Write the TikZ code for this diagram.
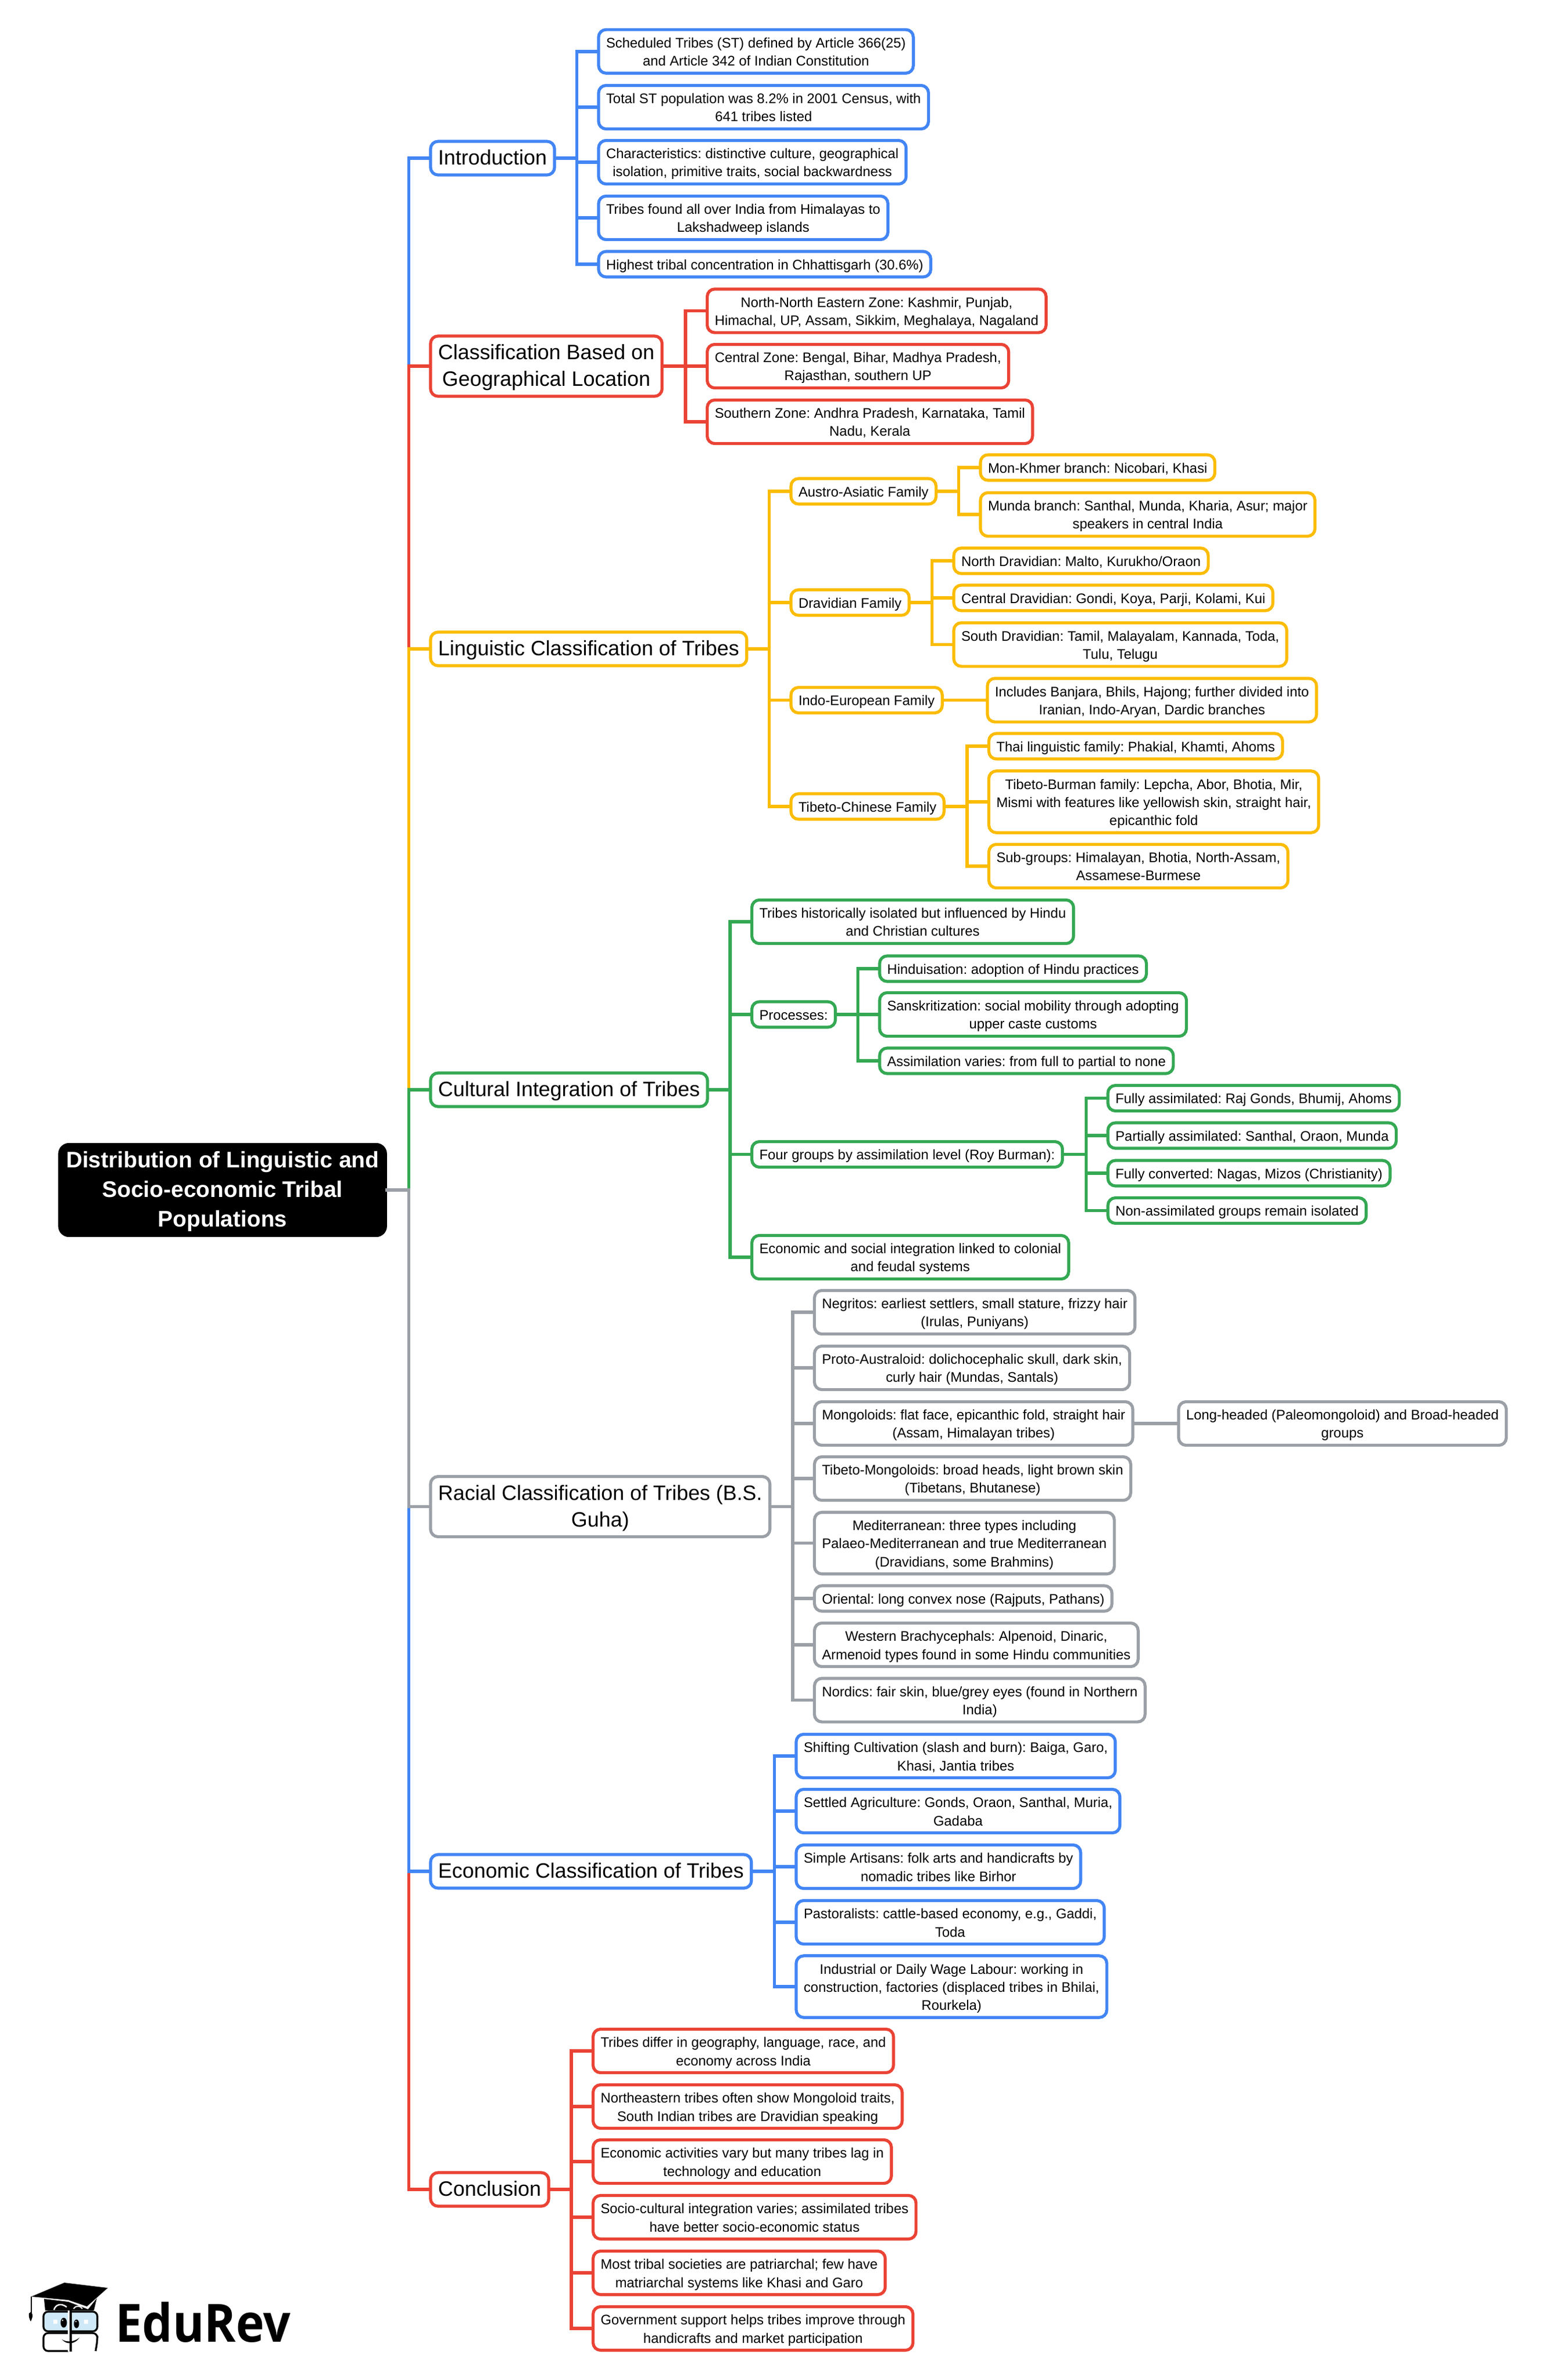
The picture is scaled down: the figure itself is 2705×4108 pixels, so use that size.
\documentclass[tikz,border=0pt]{standalone}
\usepackage{fontspec}
\usepackage{graphicx}
\setmainfont{Liberation Sans}
\newfontfamily\logofont{Open Sans}
\definecolor{cblue}{HTML}{4285F4}
\definecolor{cred}{HTML}{EA4335}
\definecolor{cyel}{HTML}{FBBC04}
\definecolor{cgrn}{HTML}{34A853}
\definecolor{cgry}{HTML}{9AA0A6}
\definecolor{glass}{HTML}{CFE9F8}
\newcommand{\zs}{\rule[-0.2\baselineskip]{0pt}{\baselineskip}}
\newcommand{\zb}{\rule[-0.25\baselineskip]{0pt}{\baselineskip}}
\tikzset{
  mnbase/.style={rectangle,rounded corners=6.5pt,line width=2.6pt,fill=white,align=center,anchor=west,outer sep=0pt,text=black},
  mnsmall/.style={mnbase,font=\fontsize{11.95}{15.6}\selectfont\frenchspacing,inner ysep=3.2pt,inner xsep=6.5pt},
  mnbig/.style={mnbase,font=\fontsize{17.95}{23}\selectfont\frenchspacing,inner ysep=3pt,inner xsep=6.6pt},
  mnroot/.style={mnbase,fill=black,draw=black,text=white,rounded corners=8pt,font=\fontsize{19.45}{25.5}\selectfont\bfseries\frenchspacing,inner ysep=1pt,inner xsep=5.5pt},
  conn/.style={line width=2.9pt},
}
\newcommand{\cn}[3]{\draw[conn,#1] (#3.west) -- ++(-37.5,0) |- (#2.east);}
\begin{document}
\begin{tikzpicture}[x=0.5pt,y=-0.5pt]
\useasboundingbox (0,0) rectangle (2705,4108);
% root
\node[mnroot] (root) at (103,2054) {\zb Distribution of Linguistic and\\Socio-economic Tribal\\Populations\zb};
% level 1
\node[mnbig,draw=cblue] (intro) at (743,273) {\zb Introduction\zb};
\node[mnbig,draw=cred] (geo) at (743,632) {\zb Classification Based on\\Geographical Location\zb};
\node[mnbig,draw=cyel] (ling) at (743,1120) {\zb Linguistic Classification of Tribes\zb};
\node[mnbig,draw=cgrn] (cult) at (743,1881) {\zb Cultural Integration of Tribes\zb};
\node[mnbig,draw=cgry] (race) at (743,2600.5) {\zb Racial Classification of Tribes (B.S.\\Guha)\zb};
\node[mnbig,draw=cblue] (econ) at (743,3230) {\zb Economic Classification of Tribes\zb};
\node[mnbig,draw=cred] (conc) at (743,3779) {\zb Conclusion\zb};
% intro children
\begin{scope}[every node/.style={mnsmall,draw=cblue}]
\node (i1) at (1033,88.7) {\zs Scheduled Tribes (ST) defined by Article 366(25)\\and Article 342 of Indian Constitution\zs};
\node (i2) at (1033,185) {\zs Total ST population was 8.2\% in 2001 Census, with\\641 tribes listed\zs};
\node (i3) at (1033,280) {\zs Characteristics: distinctive culture, geographical\\isolation, primitive traits, social backwardness\zs};
\node (i4) at (1033,376) {\zs Tribes found all over India from Himalayas to\\Lakshadweep islands\zs};
\node (i5) at (1033,456) {\zs Highest tribal concentration in Chhattisgarh (30.6\%)\zs};
\end{scope}
% geo children
\begin{scope}[every node/.style={mnsmall,draw=cred}]
\node (g1) at (1220.5,536.5) {\zs North-North Eastern Zone: Kashmir, Punjab,\\Himachal, UP, Assam, Sikkim, Meghalaya, Nagaland\zs};
\node (g2) at (1220.5,632) {\zs Central Zone: Bengal, Bihar, Madhya Pradesh,\\Rajasthan, southern UP\zs};
\node (g3) at (1220.5,728) {\zs Southern Zone: Andhra Pradesh, Karnataka, Tamil\\Nadu, Kerala\zs};
\end{scope}
% linguistic
\begin{scope}[every node/.style={mnsmall,draw=cyel}]
\node (l1) at (1365,848) {\zs Austro-Asiatic Family\zs};
\node (l2) at (1365,1040) {\zs Dravidian Family\zs};
\node (l3) at (1365,1208.5) {\zs Indo-European Family\zs};
\node (l4) at (1365,1392) {\zs Tibeto-Chinese Family\zs};
\node (l11) at (1692,807) {\zs Mon-Khmer branch: Nicobari, Khasi\zs};
\node (l12) at (1692,888) {\zs Munda branch: Santhal, Munda, Kharia, Asur; major\\speakers in central India\zs};
\node (l21) at (1646,968) {\zs North Dravidian: Malto, Kurukho/Oraon\zs};
\node (l22) at (1646,1032) {\zs Central Dravidian: Gondi, Koya, Parji, Kolami, Kui\zs};
\node (l23) at (1646,1112.5) {\zs South Dravidian: Tamil, Malayalam, Kannada, Toda,\\Tulu, Telugu\zs};
\node (l31) at (1704,1208.5) {\zs Includes Banjara, Bhils, Hajong; further divided into\\Iranian, Indo-Aryan, Dardic branches\zs};
\node (l41) at (1706.5,1288) {\zs Thai linguistic family: Phakial, Khamti, Ahoms\zs};
\node (l42) at (1706.5,1384) {\zs Tibeto-Burman family: Lepcha, Abor, Bhotia, Mir,\\Mismi with features like yellowish skin, straight hair,\\epicanthic fold\zs};
\node (l43) at (1706.5,1495) {\zs Sub-groups: Himalayan, Bhotia, North-Assam,\\Assamese-Burmese\zs};
\end{scope}
% cultural
\begin{scope}[every node/.style={mnsmall,draw=cgrn}]
\node (c1) at (1297.5,1591) {\zs Tribes historically isolated but influenced by Hindu\\and Christian cultures\zs};
\node (c2) at (1297.5,1751) {\zs Processes:\zs};
\node (c3) at (1297.5,1992.5) {\zs Four groups by assimilation level (Roy Burman):\zs};
\node (c4) at (1297.5,2170) {\zs Economic and social integration linked to colonial\\and feudal systems\zs};
\node (c21) at (1518,1672) {\zs Hinduisation: adoption of Hindu practices\zs};
\node (c22) at (1518,1751) {\zs Sanskritization: social mobility through adopting\\upper caste customs\zs};
\node (c23) at (1518,1831) {\zs Assimilation varies: from full to partial to none\zs};
\node (c31) at (1912,1895.5) {\zs Fully assimilated: Raj Gonds, Bhumij, Ahoms\zs};
\node (c32) at (1912,1960) {\zs Partially assimilated: Santhal, Oraon, Munda\zs};
\node (c33) at (1912,2025) {\zs Fully converted: Nagas, Mizos (Christianity)\zs};
\node (c34) at (1912,2089.5) {\zs Non-assimilated groups remain isolated\zs};
\end{scope}
% racial
\begin{scope}[every node/.style={mnsmall,draw=cgry}]
\node (r1) at (1405.5,2265) {\zs Negritos: earliest settlers, small stature, frizzy hair\\(Irulas, Puniyans)\zs};
\node (r2) at (1405.5,2361) {\zs Proto-Australoid: dolichocephalic skull, dark skin,\\curly hair (Mundas, Santals)\zs};
\node (r3) at (1405.5,2457) {\zs Mongoloids: flat face, epicanthic fold, straight hair\\(Assam, Himalayan tribes)\zs};
\node (r31) at (2034,2457) {\zs Long-headed (Paleomongoloid) and Broad-headed\\groups\zs};
\node (r4) at (1405.5,2552) {\zs Tibeto-Mongoloids: broad heads, light brown skin\\(Tibetans, Bhutanese)\zs};
\node (r5) at (1405.5,2663.5) {\zs Mediterranean: three types including\\Palaeo-Mediterranean and true Mediterranean\\(Dravidians, some Brahmins)\zs};
\node (r6) at (1405.5,2759) {\zs Oriental: long convex nose (Rajputs, Pathans)\zs};
\node (r7) at (1405.5,2839) {\zs Western Brachycephals: Alpenoid, Dinaric,\\Armenoid types found in some Hindu communities\zs};
\node (r8) at (1405.5,2934.5) {\zs Nordics: fair skin, blue/grey eyes (found in Northern\\India)\zs};
\end{scope}
% economic
\begin{scope}[every node/.style={mnsmall,draw=cblue}]
\node (e1) at (1374,3031) {\zs Shifting Cultivation (slash and burn): Baiga, Garo,\\Khasi, Jantia tribes\zs};
\node (e2) at (1374,3126) {\zs Settled Agriculture: Gonds, Oraon, Santhal, Muria,\\Gadaba\zs};
\node (e3) at (1374,3222) {\zs Simple Artisans: folk arts and handicrafts by\\nomadic tribes like Birhor\zs};
\node (e4) at (1374,3318) {\zs Pastoralists: cattle-based economy, e.g., Gaddi,\\Toda\zs};
\node (e5) at (1374,3429) {\zs Industrial or Daily Wage Labour: working in\\construction, factories (displaced tribes in Bhilai,\\Rourkela)\zs};
\end{scope}
% conclusion
\begin{scope}[every node/.style={mnsmall,draw=cred}]
\node (k1) at (1023.5,3540) {\zs Tribes differ in geography, language, race, and\\economy across India\zs};
\node (k2) at (1023.5,3636) {\zs Northeastern tribes often show Mongoloid traits,\\South Indian tribes are Dravidian speaking\zs};
\node (k3) at (1023.5,3731) {\zs Economic activities vary but many tribes lag in\\technology and education\zs};
\node (k4) at (1023.5,3827) {\zs Socio-cultural integration varies; assimilated tribes\\have better socio-economic status\zs};
\node (k5) at (1023.5,3923) {\zs Most tribal societies are patriarchal; few have\\matriarchal systems like Khasi and Garo\zs};
\node (k6) at (1023.5,4019) {\zs Government support helps tribes improve through\\handicrafts and market participation\zs};
\end{scope}
% connectors root level (order fixes the colours on the trunk)
\cn{cblue}{root}{intro}
\cn{cred}{root}{geo}
\cn{cyel}{root}{ling}
\cn{cgrn}{root}{cult}
\cn{cred}{root}{conc}
\cn{cblue}{root}{econ}
\cn{cgry}{root}{race}
% level 2
\cn{cblue}{intro}{i1}\cn{cblue}{intro}{i2}\cn{cblue}{intro}{i3}\cn{cblue}{intro}{i4}\cn{cblue}{intro}{i5}
\cn{cred}{geo}{g1}\cn{cred}{geo}{g2}\cn{cred}{geo}{g3}
\cn{cyel}{ling}{l1}\cn{cyel}{ling}{l2}\cn{cyel}{ling}{l3}\cn{cyel}{ling}{l4}
\cn{cyel}{l1}{l11}\cn{cyel}{l1}{l12}
\cn{cyel}{l2}{l21}\cn{cyel}{l2}{l22}\cn{cyel}{l2}{l23}
\cn{cyel}{l3}{l31}
\cn{cyel}{l4}{l41}\cn{cyel}{l4}{l42}\cn{cyel}{l4}{l43}
\cn{cgrn}{cult}{c1}\cn{cgrn}{cult}{c2}\cn{cgrn}{cult}{c3}\cn{cgrn}{cult}{c4}
\cn{cgrn}{c2}{c21}\cn{cgrn}{c2}{c22}\cn{cgrn}{c2}{c23}
\cn{cgrn}{c3}{c31}\cn{cgrn}{c3}{c32}\cn{cgrn}{c3}{c33}\cn{cgrn}{c3}{c34}
\cn{cgry}{race}{r1}\cn{cgry}{race}{r2}\cn{cgry}{race}{r3}\cn{cgry}{race}{r4}\cn{cgry}{race}{r5}\cn{cgry}{race}{r6}\cn{cgry}{race}{r7}\cn{cgry}{race}{r8}
\cn{cgry}{r3}{r31}
\cn{cblue}{econ}{e1}\cn{cblue}{econ}{e2}\cn{cblue}{econ}{e3}\cn{cblue}{econ}{e4}\cn{cblue}{econ}{e5}
\cn{cred}{conc}{k1}\cn{cred}{conc}{k2}\cn{cred}{conc}{k3}\cn{cred}{conc}{k4}\cn{cred}{conc}{k5}\cn{cred}{conc}{k6}
% logo
\node[anchor=base west,inner sep=0pt,font=\fontsize{45.5}{50}\selectfont\logofont\bfseries] (logo) at (199,4042) {\scalebox{.91}[1]{EduRev}};
\fill[black] (54,3964) -- (111,3940) -- (186,3949) -- (150,3981) -- (118,3970) -- cycle;
\fill[black] (76,3968) -- (78,3988) -- (162,3988) -- (167,3967) -- (152,3986) -- (118,3973) -- cycle;
\draw[black,line width=1pt] (54,3964) -- (54,3992);
\fill[black] (50,3993) .. controls (49,3998) and (51,4003) .. (53,4007) .. controls (55,4002) and (58,3998) .. (54,3990) -- cycle;
\draw[white,line width=1.2pt] (93,3987) .. controls (96,3977) and (106,3975) .. (115,3982);
\draw[white,line width=1pt] (127,3985) .. controls (131,3979) and (138,3979) .. (142,3985);
\draw[black,line width=1.6pt,fill=glass,rounded corners=4pt] (75,3990) rectangle (168,4024);
\draw[black,line width=1.6pt,rounded corners=4pt] (165,4058) -- (168,4040) -- (168,4027) -- (75,4027) -- (75,4058) -- (118,4058);
\draw[white,line width=1.8pt] (118.5,3988) -- (118.5,4059);
\draw[black,line width=1.6pt] (122,3988) -- (122,4059);
\fill[black] (110,4009) ellipse [x radius=5.5,y radius=8.5];
\fill[black] (132,4011) ellipse [x radius=4.5,y radius=7.5];
\fill[white] (92,4004) rectangle (99,4011);
\fill[white] (145,4004) rectangle (152,4011);
\fill[white] (108,4005) circle [radius=1.4];
\fill[white] (131,4007) circle [radius=1.2];
\fill[black] (107,4038) .. controls (115,4043) and (127,4043) .. (137,4035) .. controls (130,4046) and (115,4048) .. (107,4038) -- cycle;
\end{tikzpicture}
\end{document}
